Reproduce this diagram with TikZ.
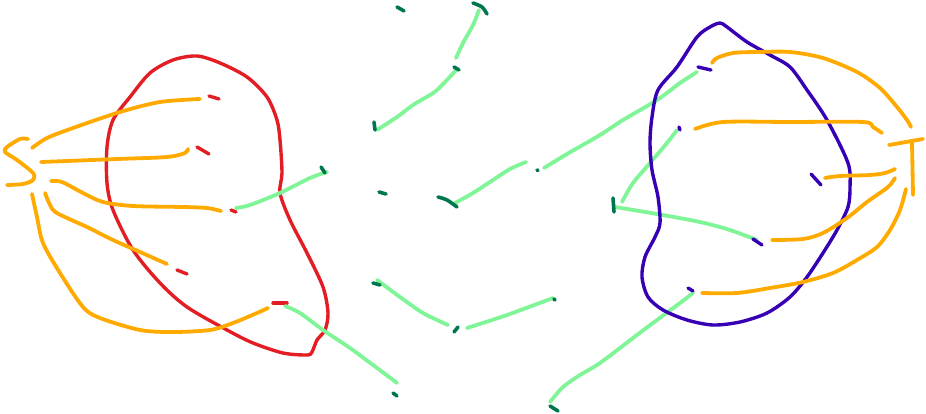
\documentclass[tikz,border=0pt]{standalone}
\definecolor{loopred}{RGB}{226,30,36}
\definecolor{strandorange}{RGB}{255,170,0}
\definecolor{looppurple}{RGB}{56,0,180}
\definecolor{lightgreen}{RGB}{128,245,152}
\definecolor{darkgreen}{RGB}{0,118,80}
\begin{document}
\begin{tikzpicture}[x=1pt,y=-1pt,line cap=round,line join=round,
    redline/.style={draw=loopred,line width=3.4pt},
    orangeline/.style={draw=strandorange,line width=3.8pt},
    purpleline/.style={draw=looppurple,line width=3.4pt},
    greenline/.style={draw=lightgreen,line width=3.8pt},
    tick/.style={draw=darkgreen,line width=3.6pt}]
    \useasboundingbox (0,0) rectangle (926,414);

    % left loop
    \draw[redline] plot[smooth cycle] coordinates {(197,56) (220,63) (247,77) (267,97) (277,120) (280,140) (282,173) (280,193) (290,220) (307,253) (323,287) (328,313) (325,330) (317,340) (312,352) (307,355) (283,353) (253,343) (227,330) (187,307) (160,283) (133,250) (113,210) (107,183) (107,147) (113,120) (130,97) (150,73) (173,60)};
    \draw[redline] (209,96) -- (219,99);
    \draw[redline] (197,147) -- (209,154);
    \draw[redline] (231,210) -- (236,212);
    \draw[redline] (177,270) -- (187,274);
    \draw[redline] (273,303) -- (287,303);

    % left strands
    \draw[orangeline] plot[smooth] coordinates {(28,139) (20,139) (7,147) (5,152) (17,160) (33,173) (33,180) (23,184) (7,185)};
    \draw[orangeline] plot[smooth] coordinates {(32,148) (47,138) (73,128) (120,112) (160,102) (200,99)};
    \draw[orangeline] plot[smooth] coordinates {(41,162) (67,161) (117,159) (167,157) (185,153) (188,149)};
    \draw[orangeline] plot[smooth] coordinates {(51,181) (62,182) (83,193) (103,202) (133,206) (183,207) (207,208) (221,211)};
    \draw[orangeline] plot[smooth] coordinates {(45,193) (53,210) (67,218) (87,227) (113,240) (140,252) (167,264)};
    \draw[orangeline] plot[smooth] coordinates {(32,194) (37,217) (43,243) (60,273) (83,307) (100,318) (140,330) (173,332) (210,330) (233,323) (257,313) (268,308)};

    % middle strands
    \draw[greenline] plot[smooth] coordinates {(236,208) (250,205) (280,193) (310,178) (327,172)};
    \draw[greenline] plot[smooth] coordinates {(285,306) (300,313) (323,330) (350,348) (373,365) (397,383)};
    \draw[greenline] plot[smooth] coordinates {(479,10) (473,25) (463,43) (456,58)};
    \draw[greenline] plot[smooth] coordinates {(457,69) (447,80) (437,90) (430,95) (413,105) (397,117) (377,130)};
    \draw[greenline] plot[smooth] coordinates {(455,203) (473,193) (493,180) (510,169) (526,162)};
    \draw[greenline] plot[smooth] coordinates {(544,168) (567,154) (600,135) (623,120) (657,100) (680,83) (697,72)};
    \draw[greenline] plot[smooth] coordinates {(377,280) (400,297) (423,313) (448,325)};
    \draw[greenline] plot[smooth] coordinates {(467,328) (507,315) (553,298)};
    \draw[greenline] plot[smooth] coordinates {(693,293) (680,303) (657,320) (633,338) (600,363) (580,375) (563,387) (550,402)};
    \draw[greenline] plot[smooth] coordinates {(677,130) (667,143) (650,163) (633,183) (622,202)};
    \draw[greenline] plot[smooth] coordinates {(615,207) (657,214) (700,222) (730,230) (757,240)};

    % dark ticks
    \draw[tick] (397,7) -- (404,11);
    \draw[tick] plot[smooth] coordinates {(473,3) (482,7) (487,14)};
    \draw[tick] (454,67) -- (459,70);
    \draw[tick] (374,122) -- (375,130);
    \draw[tick] (321,167) -- (325,173);
    \draw[tick] (379,192) -- (386,194);
    \draw[tick] plot[smooth] coordinates {(438,197) (447,200) (457,207)};
    \draw[tick] (537,170) -- (538,170.5);
    \draw[tick] (373,283) -- (380,285);
    \draw[tick] (454,332) -- (458,327);
    \draw[tick] (554,299) -- (555,300);
    \draw[tick] (393,393) -- (397,396);
    \draw[tick] (550,406) -- (558,411);
    \draw[tick] (613,198) -- (614,212);

    % right loop
    \draw[purpleline] plot[smooth cycle] coordinates {(720,23) (727,27) (747,42) (770,55) (790,67) (807,90) (827,120) (848,163) (850,187) (848,207) (837,230) (823,253) (807,277) (790,297) (767,313) (740,322) (713,325) (687,320) (663,310) (648,297) (642,277) (645,257) (655,237) (660,223) (658,197) (652,170) (650,143) (652,117) (658,90) (677,67) (697,37) (710,27)};
    \draw[purpleline] (698,67) -- (711,70);
    \draw[purpleline] (679,127) -- (680,130);
    \draw[purpleline] (811,174) -- (821,185);
    \draw[purpleline] (753,239) -- (762,245);
    \draw[purpleline] (688,288) -- (693,291);

    % right strands
    \draw[orangeline] plot[smooth] coordinates {(712,63) (717,58) (733,53) (757,52) (790,52) (823,58) (857,72) (880,88) (897,107) (907,120) (911,127)};
    \draw[orangeline] plot[smooth] coordinates {(695,129) (723,122) (790,122) (863,122) (873,127) (882,133)};
    \draw[orangeline] (889,145) -- (923,139);
    \draw[orangeline] (912,143) -- (913,195);
    \draw[orangeline] plot[smooth] coordinates {(825,178) (840,176) (870,175) (885,173) (895,169)};
    \draw[orangeline] plot[smooth] coordinates {(895,178) (888,187) (867,202) (847,218) (823,233) (803,239) (772,240)};
    \draw[orangeline] plot[smooth] coordinates {(906,189) (900,210) (890,230) (877,247) (857,260) (833,273) (803,282) (770,288) (737,293) (702,293)};
\end{tikzpicture}
\end{document}
